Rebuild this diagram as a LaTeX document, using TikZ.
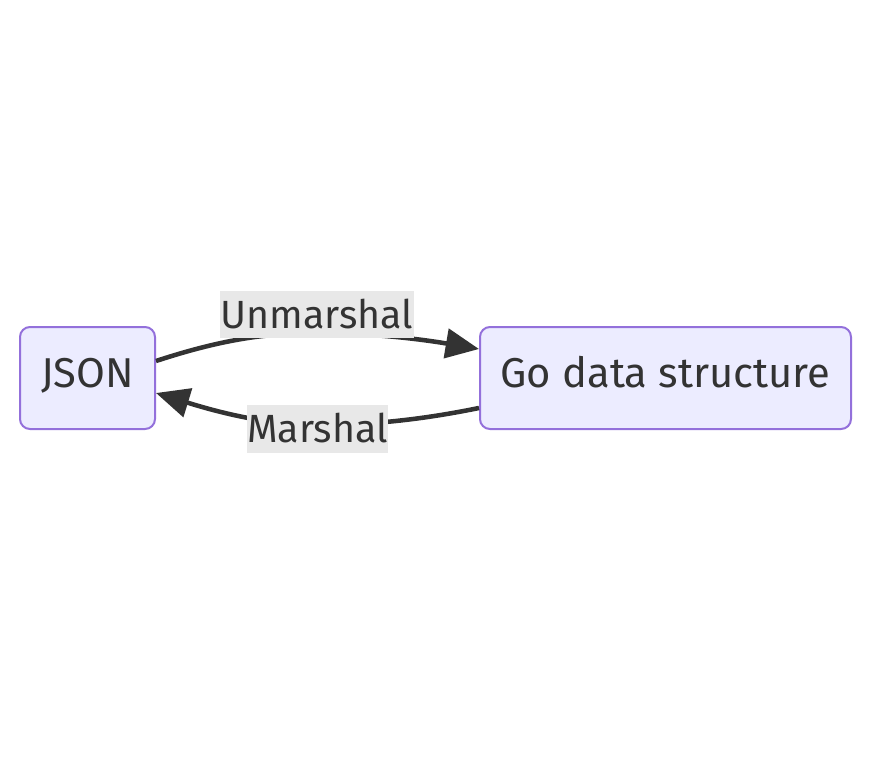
\documentclass[tikz,border=0pt]{standalone}
\usepackage{fontspec}
\setmainfont{Fira Sans}
\usetikzlibrary{arrows.meta}
\definecolor{nodefill}{HTML}{ECECFF}
\definecolor{nodeborder}{HTML}{9370DB}
\definecolor{ink}{HTML}{333333}
\definecolor{labelbg}{HTML}{E8E8E8}
\tikzset{
  boxnode/.style={draw=nodeborder, fill=nodefill, line width=1.5pt, rounded corners=7.5pt,
    text=ink, font=\fontsize{31.3}{37}\selectfont, inner sep=0pt, anchor=center,
    text height=22pt, text depth=8.5pt},
  edgelabel/.style={fill=labelbg, text=ink, font=\fontsize{29.5}{35}\selectfont, inner sep=0.5pt,
    text height=27.5pt, text depth=7.25pt},
  edge/.style={draw=ink, line width=3.4pt, -{Triangle[length=25pt,width=22pt]}}
}
\begin{document}
\begin{tikzpicture}[x=0.75pt,y=-0.75pt]
\useasboundingbox (0,0) rectangle (871,757);
\node[boxnode, minimum width=101.25pt, minimum height=76.5pt] (json) at (87.5,378) {JSON};
\node[boxnode, minimum width=278.25pt, minimum height=76.5pt] (go) at (665.5,378) {Go data structure};
\coordinate (um) at (317,333);
\coordinate (m) at (317,425);
\draw[edge] ([yshift=12.75pt]json.east) .. controls (220,340) and (265,333) .. (um) .. controls (370,333) and (420,339) .. ([yshift=21.75pt]go.west);
\draw[edge] ([yshift=-22.5pt]go.west) .. controls (420,420) and (370,425) .. (m) .. controls (260,425) and (205,408) .. ([yshift=-11.25pt]json.east);
\node[edgelabel, minimum width=145.5pt] (lu) at (317,314.5) {Unmarshal};
\node[edgelabel, minimum width=105.75pt] (lm) at (317.5,429) {Marshal};
\end{tikzpicture}
\end{document}
